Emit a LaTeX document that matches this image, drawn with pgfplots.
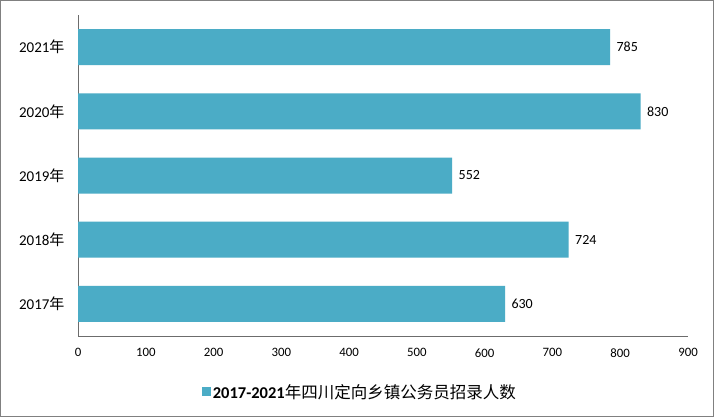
\documentclass[border=0pt]{standalone}
\usepackage{pgfplots}
\pgfplotsset{compat=1.18}
\usepackage{fontspec}
\setmainfont{Carlito}
\newfontfamily\cjk{Noto Sans CJK SC}
\definecolor{barc}{HTML}{4BACC6}
\begin{document}
\begin{tikzpicture}
\useasboundingbox (0,0) rectangle (714bp,417bp);
\fill[white] (0,0) rectangle (714bp,417bp);
\begin{axis}[
 at={(78bp,81bp)}, anchor=south west, scale only axis,
 width=610bp, height=321bp,
 xbar, bar width=36bp,
 xmin=0, xmax=900, ymin=-0.5, ymax=4.5,
 xtick={0,100,...,900}, ytick={0,...,4},
 yticklabels={2017{\cjk 年},2018{\cjk 年},2019{\cjk 年},2020{\cjk 年},2021{\cjk 年}},
 axis x line*=bottom, axis y line*=left,
 axis line style={draw=gray!85!black, line width=0.8pt},
 major tick length=0pt,
 /pgf/number format/assume math mode=true,
 xticklabel style={font=\fontsize{12.8bp}{14bp}\selectfont, yshift=-9bp},
 yticklabel style={font=\fontsize{15bp}{16bp}\selectfont, xshift=-10bp},
 nodes near coords,
 nodes near coords style={font=\fontsize{14bp}{15bp}\selectfont, black, anchor=west, xshift=3bp},
 legend style={at={(0.462,-0.174)}, anchor=center, draw=none, fill=none,
   font=\fontsize{16.5bp}{18bp}\selectfont, inner sep=1pt},
 legend image code/.code={\fill[barc] (0bp,-4.5bp) rectangle (9bp,4.5bp);},
]
\addplot[fill=barc, draw=none] coordinates {(630,0) (724,1) (552,2) (830,3) (785,4)};
\legend{\textbf{2017-2021}{\cjk 年四川定向乡镇公务员招录人数}}
\end{axis}
\draw[gray] (0.5bp,0.5bp) rectangle (713.5bp,416.5bp);
\end{tikzpicture}
\end{document}
